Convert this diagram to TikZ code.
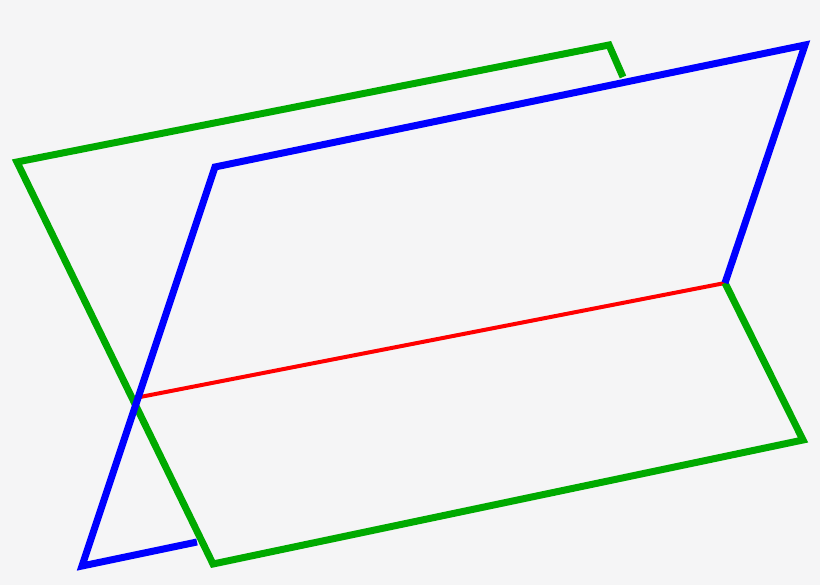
\documentclass[tikz,border=0pt]{standalone}
\definecolor{bgc}{RGB}{245,245,246}
\definecolor{gplane}{RGB}{0,170,0}
\definecolor{bplane}{RGB}{0,0,255}
\definecolor{rline}{RGB}{255,0,0}
\begin{document}
\begin{tikzpicture}[x=1pt,y=-1pt,
  greenedge/.style={draw=gplane,line width=7pt,line join=miter},
  blueedge/.style={draw=bplane,line width=7pt,line join=miter},
  rededge/.style={draw=rline,line width=4pt}]
\fill[bgc] (0,0) rectangle (820,585);
\useasboundingbox (0,0) rectangle (820,585);
\coordinate (g0) at (623,77);
\coordinate (g1) at (609,45);
\coordinate (g2) at (17,162);
\coordinate (g3) at (213,564);
\coordinate (g4) at (803,440);
\coordinate (p) at (135,398);
\coordinate (q) at (725,283);
\coordinate (b0) at (197,542);
\coordinate (b1) at (82,566);
\coordinate (b2) at (215,167);
\coordinate (b3) at (805,45);
\draw[rededge] (p) -- (q);
\draw[greenedge] (g0) -- (g1) -- (g2) -- (g3) -- (g4) -- (q);
\draw[blueedge] (b0) -- (b1) -- (b2) -- (b3) -- (q);
\end{tikzpicture}
\end{document}
